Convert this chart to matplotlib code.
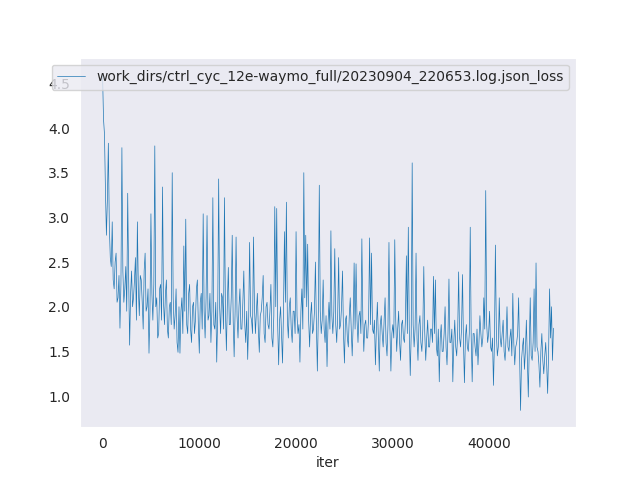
import numpy as np
import matplotlib
matplotlib.use('Agg')
import matplotlib.pyplot as plt
import seaborn as sns

# loss curve, one value every 100 iters
label = 'work_dirs/ctrl_cyc_12e-waymo_full/20230904_220653.log.json_loss'
step = 100
loss = [
    4.60, 4.10, 3.93, 3.30, 2.80, 3.20, 3.83, 2.90, 2.55, 2.45, 2.95, 2.30, 2.20, 2.50, 2.60, 2.05, 2.10, 2.35, 1.76, 2.25,
    3.78, 2.40, 2.05, 2.20, 2.45, 1.95, 3.27, 2.30, 1.57, 2.15, 2.40, 2.00, 2.10, 2.30, 2.55, 1.85, 2.95, 2.20, 1.90, 2.35,
    2.30, 2.05, 1.75, 2.40, 2.60, 1.95, 2.00, 2.20, 1.48, 1.95, 3.04, 2.15, 1.85, 2.25, 3.80, 2.00, 2.10, 1.65, 1.70, 2.20,
    2.25, 1.85, 3.34, 2.05, 1.80, 2.15, 2.30, 1.75, 1.65, 2.00, 2.05, 1.80, 3.50, 2.10, 1.75, 1.90, 2.20, 1.60, 1.49, 2.00,
    1.48, 1.95, 2.10, 1.70, 2.68, 1.95, 2.98, 1.80, 1.70, 2.15, 2.25, 1.75, 1.60, 2.00, 2.05, 1.70, 1.85, 2.20, 2.30, 1.80,
    1.48, 2.05, 2.15, 1.75, 3.04, 1.95, 1.65, 2.10, 3.02, 1.85, 1.90, 2.15, 1.60, 1.95, 3.22, 1.80, 1.75, 2.05, 1.38, 1.90,
    3.43, 2.00, 1.70, 2.15, 2.10, 1.75, 3.22, 1.95, 1.51, 2.05, 2.44, 1.80, 1.80, 2.10, 2.80, 1.85, 1.44, 1.95, 2.78, 1.90,
    1.65, 2.00, 2.20, 1.75, 1.75, 2.05, 2.40, 1.80, 1.60, 1.95, 1.41, 1.85, 2.72, 1.90, 1.85, 1.70, 2.78, 2.00, 1.70, 1.95,
    2.15, 1.75, 1.49, 1.90, 1.95, 2.10, 2.35, 1.70, 1.60, 2.00, 2.05, 1.80, 1.75, 1.95, 2.25, 1.65, 1.55, 1.90, 3.12, 2.00,
    3.10, 1.80, 1.35, 1.85, 2.00, 1.70, 1.37, 1.95, 2.84, 2.05, 3.17, 1.85, 1.65, 2.00, 2.10, 1.75, 1.60, 1.95, 1.95, 1.70,
    2.84, 1.90, 1.70, 1.80, 1.38, 1.95, 2.20, 1.75, 3.50, 2.10, 2.80, 2.00, 2.70, 1.85, 1.55, 1.90, 2.05, 1.70, 1.75, 1.95,
    2.50, 1.80, 1.28, 1.90, 3.36, 1.95, 1.70, 1.85, 2.30, 1.75, 1.60, 1.90, 1.33, 1.80, 2.05, 1.75, 2.85, 1.90, 1.70, 1.95,
    2.65, 1.80, 1.60, 1.90, 2.55, 1.75, 1.80, 2.00, 2.40, 1.70, 1.37, 1.85, 1.90, 1.65, 1.55, 1.90, 2.10, 1.75, 1.45, 1.80,
    2.49, 1.75, 2.48, 1.85, 1.60, 1.90, 1.95, 1.70, 2.76, 1.85, 1.50, 1.80, 1.85, 1.65, 1.65, 1.90, 2.77, 1.80, 2.60, 1.75,
    1.70, 1.85, 1.35, 1.75, 2.05, 1.65, 1.28, 1.80, 1.90, 1.70, 1.55, 1.85, 2.10, 1.60, 1.45, 1.80, 2.72, 1.75, 1.28, 1.70,
    1.80, 1.65, 2.75, 1.85, 1.50, 1.75, 1.95, 1.60, 1.40, 1.80, 1.85, 1.65, 1.60, 1.85, 2.57, 1.70, 2.89, 1.75, 1.23, 1.70,
    3.61, 1.80, 1.55, 1.75, 2.60, 1.65, 1.40, 1.80, 1.90, 1.60, 1.50, 1.75, 2.45, 1.70, 1.40, 1.65, 1.85, 1.55, 1.55, 1.75,
    1.75, 1.60, 2.34, 1.70, 2.30, 1.55, 1.45, 1.75, 1.16, 1.65, 1.80, 1.50, 1.50, 1.70, 2.00, 1.55, 1.35, 1.70, 2.31, 1.60,
    1.60, 1.75, 1.16, 1.60, 1.85, 1.55, 1.45, 1.70, 2.39, 1.65, 1.55, 1.75, 2.36, 1.60, 1.15, 1.65, 1.80, 1.55, 1.50, 1.70,
    2.89, 1.65, 1.16, 1.70, 1.70, 1.55, 1.45, 1.75, 1.35, 1.60, 1.90, 1.70, 1.55, 1.65, 2.10, 1.75, 3.30, 1.80, 1.60, 1.70,
    1.95, 1.55, 1.50, 1.65, 1.12, 1.60, 2.69, 1.70, 1.45, 1.55, 2.10, 1.65, 1.55, 1.70, 1.85, 1.50, 1.40, 1.65, 2.00, 1.55,
    1.50, 1.65, 1.75, 1.45, 2.15, 1.60, 1.35, 1.55, 1.60, 1.70, 2.10, 1.45, 0.84, 1.40, 1.55, 1.65, 1.30, 1.50, 1.85, 1.40,
    0.99, 1.55, 2.10, 1.45, 1.40, 1.60, 2.20, 1.50, 2.49, 1.55, 1.50, 1.35, 1.10, 1.50, 1.70, 1.40, 1.25, 1.45, 1.60, 1.35,
    1.03, 1.50, 2.20, 1.65, 2.00, 1.40, 1.76,
]

iters = np.arange(len(loss)) * step

sns.set_style('dark')
plt.figure(figsize=(6.4, 4.8), dpi=100)
plt.plot(iters, loss, label=label, linewidth=0.5)
plt.xlabel('iter')
plt.legend(loc='upper right')
plt.savefig('out.png', dpi=100)
